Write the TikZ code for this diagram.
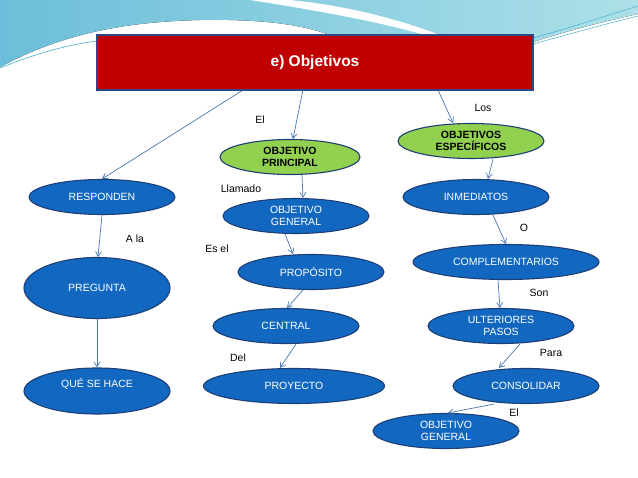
\documentclass[tikz,border=0pt]{standalone}
\usepackage{fontspec}
\setmainfont{Liberation Sans}
\usepackage{tikz}
\usetikzlibrary{arrows.meta, positioning, shapes.geometric, calc}

\definecolor{ellblue}{RGB}{18,104,192}
\definecolor{ellline}{RGB}{30,62,118}
\definecolor{ellgreen}{RGB}{146,208,80}
\definecolor{titlered}{RGB}{192,0,0}
\definecolor{titleline}{RGB}{47,72,130}
\definecolor{linkblue}{RGB}{72,118,176}
\definecolor{swleft}{RGB}{108,190,218}
\definecolor{swright}{RGB}{172,224,232}
\definecolor{swstreak}{RGB}{70,175,205}

\begin{document}
\begin{tikzpicture}[
  x=1pt, y=-1pt,
  every node/.style={font=\fontsize{10.5}{12}\selectfont},
  bubble/.style={draw=ellline, line width=1.1pt, ellipse, fill=ellblue, text=white,
    minimum width=146pt, minimum height=35pt, inner sep=0pt, align=center},
  keybubble/.style={bubble, fill=ellgreen, text=black, font=\fontsize{10.5}{11.5}\selectfont\bfseries,
    draw=ellline},
  arrow/.style={-{Straight Barb[length=5pt, width=6pt]}, line width=0.7pt, linkblue},
  label/.style={text=black},
]
\useasboundingbox (0,0) rectangle (638,478);

% Background swoosh at the top
\fill[left color=swleft, right color=swright] (0,0) -- (638,0) -- (638,14)
  .. controls (610,20) and (570,30) .. (533,42) -- (330,35)
  .. controls (300,24) and (260,19) .. (200,20)
  .. controls (120,22) and (60,35) .. (0,67) -- cycle;
\fill[white] (290,0) .. controls (350,6) and (400,20) .. (440,35) -- (425,35)
  .. controls (390,25) and (340,14) .. (250,0) -- cycle;
\draw[swstreak, line width=0.6pt] (0,68) .. controls (30,56) and (60,46) .. (97,41);
\draw[swstreak, line width=0.5pt] (533,38) .. controls (570,28) and (605,16) .. (638,6);
\draw[swstreak, line width=0.5pt] (533,44) .. controls (570,34) and (605,24) .. (638,16);

% Title
\node[draw=titleline, line width=1.5pt, fill=titlered, minimum width=436pt, minimum height=55pt,
  text=white, font=\fontsize{15.5}{18}\selectfont\bfseries] (title) at (315,62.5) {e) Objetivos};

% Left column
\node[bubble] (resp) at (102,197) {RESPONDEN};
\node[bubble, minimum height=61pt] (preg) at (97,288) {PREGUNTA};
\node[bubble, minimum height=46pt] (que) at (97,391) {QUÉ SE HACE\\[4pt]};

% Middle column
\node[keybubble, minimum width=140pt] (princ) at (290,157) {OBJETIVO\\PRINCIPAL};
\node[bubble] (gen) at (296,216) {OBJETIVO\\GENERAL};
\node[bubble] (prop) at (311,272) {PROPÓSITO};
\node[bubble] (cent) at (286,326) {CENTRAL};
\node[bubble, minimum width=181pt] (proy) at (294,386) {PROYECTO};

% Right column
\node[keybubble] (esp) at (471,141) {OBJETIVOS\\ESPECÍFICOS};
\node[bubble] (inm) at (476,197) {INMEDIATOS};
\node[bubble, minimum width=186pt] (comp) at (506,262) {COMPLEMENTARIOS};
\node[bubble] (ult) at (501,326) {ULTERIORES\\PASOS};
\node[bubble] (cons) at (526,386) {CONSOLIDAR};
\node[bubble] (ogen) at (446,431) {OBJETIVO\\GENERAL};

% Links from the title
\draw[arrow] ($(title.south west)!0.333!(title.south east)$) -- (resp.north);
\draw[arrow] ($(title.south west)!0.472!(title.south east)$) -- ([xshift=3pt]princ.north);
\draw[arrow] ($(title.south west)!0.782!(title.south east)$) -- ([xshift=-18pt]esp.north);

% Left links
\draw[arrow] (resp.south) -- ([xshift=1pt]preg.north);
\draw[arrow] (preg.south) -- (que.north);

% Middle links
\draw[arrow] ([xshift=12pt]princ.south) -- ([xshift=7pt]gen.north);
\draw[arrow] ([xshift=-11pt]gen.south) -- ([xshift=-18pt]prop.north);
\draw[arrow] ([xshift=-8pt]prop.south) -- ([xshift=1pt]cent.north);
\draw[arrow] ([xshift=10pt]cent.south) -- ([xshift=-14pt]proy.north);

% Right links
\draw[arrow] ([xshift=22pt]esp.south) -- ([xshift=12pt]inm.north);
\draw[arrow] ([xshift=17pt]inm.south) -- (comp.north);
\draw[arrow] ([xshift=-8pt]comp.south) -- ([xshift=-1pt]ult.north);
\draw[arrow] ([xshift=19pt]ult.south) -- ([xshift=-27pt]cons.north);
\draw[arrow] ([xshift=-32pt]cons.south) -- ([xshift=2pt]ogen.north);

% Link words
\node[label] (lel) at (260,120) {El};
\node[label] (llos) at (483,108) {Los};
\node[label] (lllam) at (241,189) {Llamado};
\node[label] (lala) at (135,239) {A la};
\node[label] (lesel) at (217,249) {Es el};
\node[label] (lo) at (524,228) {O};
\node[label] (lson) at (539,293) {Son};
\node[label] (ldel) at (238,358) {Del};
\node[label] (lpara) at (551,353) {Para};
\node[label] (lel2) at (514,413) {El};

\end{tikzpicture}
\end{document}
